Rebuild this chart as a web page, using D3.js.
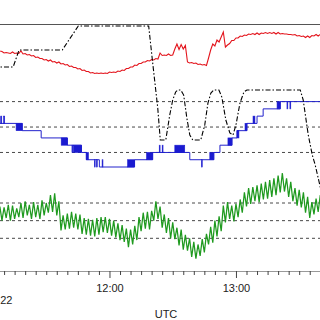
<!DOCTYPE html>
<html><head><meta charset="utf-8">
<script src="https://cdn.jsdelivr.net/npm/d3@7"></script>
<style>body{margin:0;background:#fff}svg{display:block}</style>
</head><body>
<script>
// ---- data (minutes after 11:00 UTC) ----
const dateLabel = "2019-03-22";
const hourLabels = ["12:00", "13:00"];
const sampleStart = 7, sampleMinutes = 1;

const redValues = [
30.5,29,28.5,27,27.5,27,26.5,28,26.5,27,
26.5,29,26,26.5,25,25.5,24,24.5,22.5,23,
21.5,21.5,20,20.5,19,20,18,18.5,17,18,
16,16.5,15,15.5,13.5,14,12.5,12.5,11,11.5,
9.5,10,8.5,8.5,7,7.5,6.5,7,6.5,7,
6.5,7,6.5,8,7.5,8,7.5,9,8.5,10,
9.5,11.5,11.5,13,13,15,14.5,16.5,16.5,18,
18,19.5,19,20.5,20,21.5,21,27,24.5,25,
24.5,26,24.5,25,31,36,30.5,35.5,31,34.5,
18,17,17.5,16.5,17,15.5,16,15,15.5,14.5,
22,30,36,34,40,38,43,48,33,35,
36.5,39.5,39.5,42,42,44,43.5,45,44.5,46,
45.5,46.5,45.5,47,45.5,47,46.5,47.5,46.5,47.5,
46.5,47.5,46,47.5,46,46.5,46,46,45.5,45.5,
45,45.5,44,44.5,43.5,44,42.5,44,42.5,44.5,
44,45.5,44,45.5,44.5];

const greenValues = [
29.5,38,30,37.5,31.5,39,30,38.5,31,37,
32,40,31.5,41,33,39,31,40.5,32,39,
31,41.5,33,40,34.5,44.5,35,45.5,33,41,
24.5,33,25,34,25.5,35,26,34,25,33.5,
22.5,31.5,22,31,21.5,30.5,21,31.5,22,32,
23.5,32,23,31,21.5,30,20.5,28.5,19,27.5,
18,25.5,15,25,16.5,27,19,32,24,34.5,
25.5,35,25,35.5,30,41,31,38,26,33.5,
23,31.5,20,29,19.5,26,16,25,13.5,22,
13,20,9.5,18,8.5,16.5,10,19.5,12,22.5,
16.5,26.5,17.5,30,21,32.5,24,38.5,29,40.5,
31,38.5,29.5,39.5,32,42,34.5,46,38,48.5,
39.5,49,41,50,40.5,51,42,52,42.5,53,
43.5,54,44.5,55.5,46,57,46.5,54,43.5,52,
41,48.5,38.5,47.5,37.5,46,34.5,43.5,31.5,40.5,
33.5,42.5,35,44.5,33.5];

// black dash-dot trace: [minute, value]
const blackPoints = [
[0,67.5],[14.3,67.5],[17.1,76.8],[37.6,76.8],[45.2,90],[78.6,90],[80.5,69.7],
[82.9,45],[84.1,27.4],[86.7,27.4],[88.6,41.2],[90,49.4],[91.4,53.8],[92.4,54.9],
[93.8,54.9],[95.2,52.1],[96.7,39.5],[98.1,30.2],[99.5,27.4],[103.3,27.4],
[105.2,35.7],[106.7,47.7],[108.1,53.2],[109.5,54.9],[111.9,54.9],[113.3,51],
[115.2,38.4],[117.1,31.3],[118.6,30.2],[120,35.7],[121.9,47.7],[123.8,53.8],
[125.2,54.9],[150.5,54.9],[151.9,49.4],[154.3,30.2],[156.2,19.2],[157.6,13.7],
[160,1.6],[162,-5.5]];

// blue step trace: [minute, level]
const blueSteps = [
[0,6],[18.6,5],[27.6,4],[40,3],[46.7,2],[49,1],[55.2,0],[71.9,1],[80.5,2],
[98.1,1],[109.5,2],[112.4,3],[118.1,4],[120.5,5],[125.2,6],[130,7],[132.9,8],
[141,9],[165,9]];
// rapid switching bursts: [start, end, low level, high level]
const blueBursts = [
[8.4,8.9,6,7],[9.8,10.3,6,7],[15.7,18.6,5,6],[37.1,40,3,4],[42.2,42.6,2,3],
[42.9,46.7,2,3],[49,50,1,2],[52.8,53.2,0,1],[53.8,54.2,0,1],[56.5,56.9,0,1],
[68.6,71.9,0,1],[77.6,80.5,1,2],[83.6,84,2,3],[85,85.4,2,3],[91,95.7,2,3],
[103.6,104,0,1],[107.6,109.5,1,2],[116.2,118.1,3,4],[120.5,121.4,4,5],
[124.3,125.2,5,6],[128.1,129,6,7],[139.5,141,8,9],[144.2,144.6,8,9],[145.6,146,8,9]];

const blueGrid = [2, 5.5, 9];
const greenGrid = [20, 30, 40];

// ---- drawing ----
const W = 320, H = 320, plotTop = 24.5, plotBottom = 271;
const T0 = Date.UTC(2019, 2, 22, 11, 0);
const tm = m => new Date(T0 + m * 60000);

const x = d3.scaleUtc().domain([tm(0), tm(165)]).range([-17, -17 + 2.108 * 165]);
const yR = d3.scaleLinear().domain([0, 60]).range([80, 20]);
const yK = d3.scaleLinear().domain([0, 90]).range([190, 26]);
const yB = d3.scaleLinear().domain([0, 9]).range([167, 101.6]);
const yG = d3.scaleLinear().domain([20, 40]).range([238.3, 203]);

const svg = d3.select("body").append("svg").attr("width", W).attr("height", H)
  .style("font-family", "'Liberation Sans', Arial, sans-serif");

svg.append("defs").append("clipPath").attr("id", "clip")
  .append("rect").attr("x", 0).attr("y", plotTop).attr("width", W).attr("height", plotBottom - plotTop);

// top frame line
svg.append("line").attr("x1", 0).attr("x2", W).attr("y1", plotTop).attr("y2", plotTop)
  .attr("stroke", "#555").attr("stroke-width", 1.2);

const plot = svg.append("g").attr("clip-path", "url(#clip)");

// grid lines
const gridYs = blueGrid.map(v => yB(v)).concat(greenGrid.map(v => yG(v)));
plot.selectAll("line.grid").data(gridYs).join("line")
  .attr("x1", 0).attr("x2", W).attr("y1", d => d).attr("y2", d => d)
  .attr("stroke", "#333").attr("stroke-width", 0.9).attr("stroke-dasharray", "3,3");

// green
plot.append("path")
  .attr("d", d3.line().x((d, i) => x(tm(sampleStart + i * sampleMinutes))).y(d => yG(d))(greenValues))
  .attr("fill", "none").attr("stroke", "#1f9a1f").attr("stroke-width", 1.25);

// blue
plot.append("path")
  .attr("d", d3.line().curve(d3.curveStepAfter).x(d => x(tm(d[0]))).y(d => yB(d[1]))(blueSteps))
  .attr("fill", "none").attr("stroke", "#2323cc").attr("stroke-width", 1);
plot.selectAll("rect.burst").data(blueBursts).join("rect")
  .attr("x", d => x(tm(d[0]))).attr("width", d => Math.max(0.8, x(tm(d[1])) - x(tm(d[0]))))
  .attr("y", d => yB(d[3])).attr("height", d => yB(d[2]) - yB(d[3]))
  .attr("fill", "#1a1ad0").attr("stroke", "#1a1ad0").attr("stroke-width", 0.6);

// red
plot.append("path")
  .attr("d", d3.line().x((d, i) => x(tm(sampleStart + i * sampleMinutes))).y(d => yR(d))(redValues))
  .attr("fill", "none").attr("stroke", "#e3141c").attr("stroke-width", 1.1);

// black dash-dot
plot.append("path")
  .attr("d", d3.line().x(d => x(tm(d[0]))).y(d => yK(d[1]))(blackPoints))
  .attr("fill", "none").attr("stroke", "#000").attr("stroke-width", 1.1)
  .attr("stroke-dasharray", "5,2,1.5,2");

// x axis
const fmt = d3.utcFormat("%H:%M");
const axis = d3.axisBottom(x).ticks(d3.utcMinute.every(5)).tickSize(4).tickSizeOuter(0)
  .tickFormat(d => hourLabels.includes(fmt(d)) ? fmt(d) : "");
const ax = svg.append("g").attr("transform", `translate(0,${plotBottom})`).call(axis);
ax.select(".domain").attr("stroke", "#999");
ax.selectAll(".tick line").attr("stroke", "#444");
ax.selectAll(".tick").filter(d => d.getUTCMinutes() === 0).select("line").attr("y2", 7);
ax.selectAll(".tick text").attr("y", 21).attr("dy", 0).attr("font-size", 11)
  .attr("fill", "#222").attr("font-family", "'Liberation Sans', Arial, sans-serif");

svg.append("text").attr("x", 12.5).attr("y", 304).attr("text-anchor", "end")
  .attr("font-size", 11).attr("fill", "#222").text(dateLabel);
svg.append("text").attr("x", 166).attr("y", 318).attr("text-anchor", "middle")
  .attr("font-size", 11).attr("fill", "#222").text("UTC");
</script>
</body></html>
